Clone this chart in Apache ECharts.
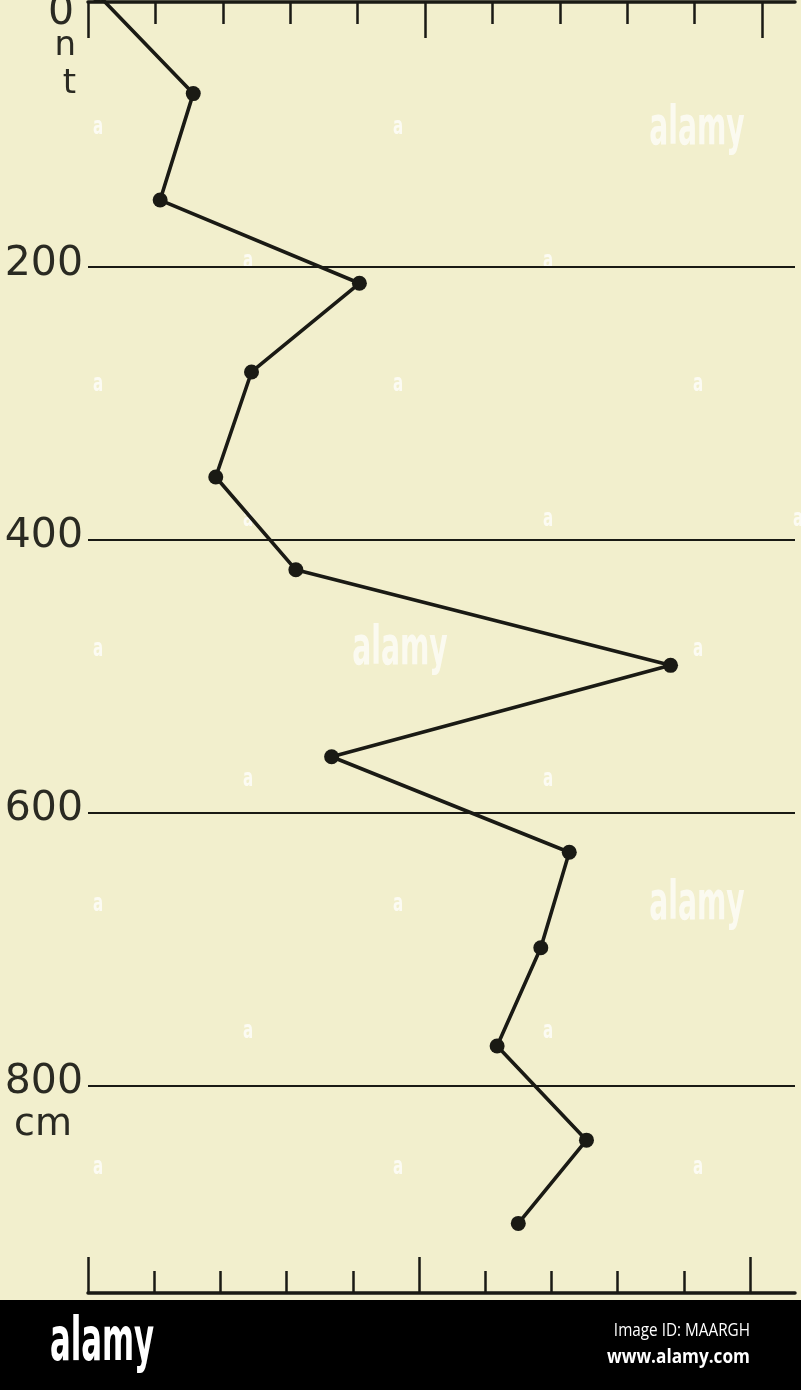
<!DOCTYPE html>
<html>
<head>
<meta charset="utf-8">
<script src="https://cdn.jsdelivr.net/npm/echarts@6/dist/echarts.min.js"></script>
<style>
html,body{margin:0;padding:0;background:#f2efcd;}
#chart{width:801px;height:1390px;}
</style>
</head>
<body>
<div id="chart"></div>
<script>
// ---- data (depth in cm, value on 0-10 scale) ----
const depthCm = [0, 73, 151, 212, 277, 354, 422, 492, 559, 629, 699, 771, 840, 901];
const values  = [0.14, 1.59, 1.09, 4.10, 2.47, 1.93, 3.14, 8.80, 3.68, 7.27, 6.84, 6.18, 7.53, 6.50];
const depthLines = [200, 400, 600, 800];
const depthLabelTicks = [6, 200, 400, 600, 800];   // first entry carries the "0" label at the top edge
const minorTicks = [1, 2, 3, 4, 6, 7, 8, 9];
const majorTicks = [0, 5, 10];
const depthUnit = 'cm';

const ink = '#1a1a14';
const chart = echarts.init(document.getElementById('chart'));

const points = depthCm.map((d, i) => [values[i], d]);

function xAx(pos, max, ticks, len, showLine) {
  return {
    type: 'value', gridIndex: 0, position: pos, min: 0, max: max,
    axisLine: { show: showLine, onZero: false, lineStyle: { color: ink, width: 3.5 } },
    axisTick: { show: true, inside: true, length: len, customValues: ticks, lineStyle: { color: ink, width: 2.5 } },
    axisLabel: { show: false },
    splitLine: { show: false }
  };
}

const condensed = '"DejaVu Sans Condensed", "DejaVu Sans", sans-serif';
const wm = [];
const aPos = [[98,128],[398,128],[548,262],[248,262],[98,385],[398,385],[698,385],[248,520],[548,520],[798,520],[98,650],[698,650],[248,780],[548,780],[98,905],[398,905],[248,1032],[548,1032],[98,1168],[398,1168],[698,1168]];
aPos.forEach(p => wm.push({ type: 'text', x: p[0], y: p[1], scaleX: 0.7, style: { text: 'a', fill: 'rgba(255,255,255,0.75)', font: 'bold 24px ' + condensed, align: 'center', verticalAlign: 'middle' }, z: 1 }));
[[697,130],[400,650],[697,905]].forEach(p => wm.push({ type: 'text', x: p[0], y: p[1], scaleX: 0.58, style: { text: 'alamy', fill: 'rgba(255,255,255,0.7)', font: 'bold 54px ' + condensed, align: 'center', verticalAlign: 'middle' }, z: 1 }));

chart.setOption({
  backgroundColor: '#f2efcd',
  animation: false,
  grid: { left: 88, right: 6, top: 2, bottom: 97, containLabel: false, outerBoundsMode: 'none' },
  xAxis: [
    xAx('bottom', 10.68, minorTicks, 22, true),
    xAx('bottom', 10.68, majorTicks, 36, false),
    xAx('top', 10.49, minorTicks, 22, true),
    xAx('top', 10.49, majorTicks, 36, false)
  ],
  yAxis: {
    type: 'value', inverse: true, min: 5.86, max: 952,
    axisLine: { show: false }, axisTick: { show: false },
    splitLine: { show: false },
    axisLabel: {
      margin: 5, color: '#2a2a22', fontSize: 41, fontFamily: 'DejaVu Sans',
      customValues: depthLabelTicks,
      formatter: v => v < 100 ? '{z|0}' : '{n|' + v + '}',
      rich: {
        z: { fontSize: 41, fontFamily: 'DejaVu Sans', color: '#2a2a22', padding: [22, 9, 0, 0] },
        n: { fontSize: 41, fontFamily: 'DejaVu Sans', color: '#2a2a22', padding: [0, 0, 6, 0] }
      }
    }
  },
  series: [{
    type: 'line', xAxisIndex: 0, yAxisIndex: 0, data: points, clip: false,
    symbol: 'circle', symbolSize: 15,
    lineStyle: { color: ink, width: 3.6 },
    itemStyle: { color: ink },
    z: 5,
    markLine: {
      silent: true, symbol: 'none', animation: false,
      label: { show: false },
      lineStyle: { color: ink, width: 2, type: 'solid' },
      data: depthLines.map(d => ({ yAxis: d }))
    }
  }],
  graphic: wm.concat([
    { type: 'text', x: 43, y: 1125, style: { text: depthUnit, fill: '#2a2a22', font: '38px "DejaVu Sans"', align: 'center', verticalAlign: 'middle' }, z: 10 },
    { type: 'text', x: 76, y: 46, style: { text: 'n', fill: '#2a2a22', font: '34px "DejaVu Sans"', align: 'right', verticalAlign: 'middle' }, z: 10 },
    { type: 'text', x: 76, y: 84, style: { text: 't', fill: '#2a2a22', font: '34px "DejaVu Sans"', align: 'right', verticalAlign: 'middle' }, z: 10 },
    { type: 'rect', shape: { x: 0, y: 1300, width: 801, height: 90 }, style: { fill: '#000' }, z: 20 },
    { type: 'text', x: 50, y: 1344, scaleX: 0.57, style: { text: 'alamy', fill: '#fff', font: 'bold 60px ' + condensed, align: 'left', verticalAlign: 'middle' }, z: 21 },
    { type: 'text', x: 750, y: 1331, scaleX: 0.85, style: { text: 'Image ID: MAARGH', fill: '#fff', font: '18px "Open Sans"', align: 'right', verticalAlign: 'middle' }, z: 21 },
    { type: 'text', x: 750, y: 1357, scaleX: 0.86, style: { text: 'www.alamy.com', fill: '#fff', font: 'bold 20px "Open Sans"', align: 'right', verticalAlign: 'middle' }, z: 21 }
  ])
});
</script>
</body>
</html>
